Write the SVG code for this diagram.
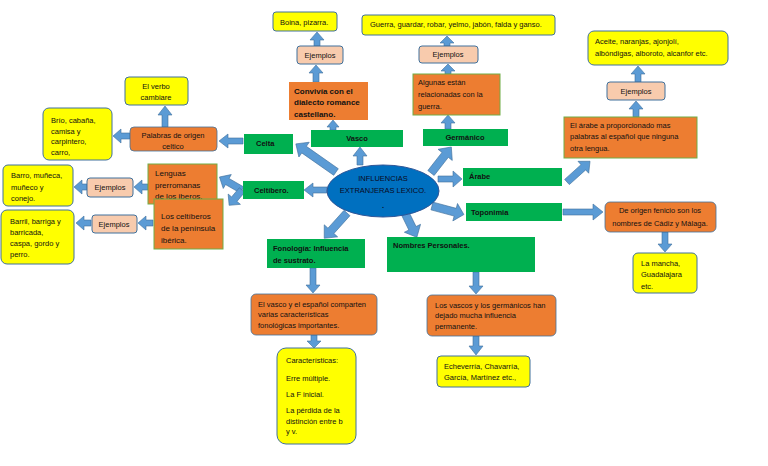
<svg xmlns="http://www.w3.org/2000/svg" width="768" height="466" viewBox="0 0 768 466">
<style>
text{font-family:"Liberation Sans",Arial,sans-serif;font-size:7.5px;fill:#111}
.b{font-weight:bold}
.m{text-anchor:middle}
.l{font-size:8px}
.g{fill:#00B050}
.o{fill:#ED7D31}
.og{fill:#ED7D31;stroke:#70AD47;stroke-width:1}
.or{fill:#ED7D31;stroke:#41719C;stroke-width:0.8}
.y{fill:#FFFF00;stroke:#41719C;stroke-width:1}
.p{fill:#F8CBAD;stroke:#41719C;stroke-width:1}
.a{fill:#5B9BD5;stroke:#41719C;stroke-width:0.6}
</style>
<rect width="768" height="466" fill="#fff"/>
<g id="connectors">
<path class="a" d="M243,138 L228,138 L228,134 L219,141 L228,148 L228,144 L243,144 Z"/>
<path class="a" d="M162,127 L162,115 L158,115 L165,106 L172,115 L168,115 L168,127 Z"/>
<path class="a" d="M130,133 L121,133 L121,129 L113,136 L121,143 L121,139 L130,139 Z"/>
<path class="a" d="M148,184 L142,184 L142,180 L134,187 L142,194 L142,190 L148,190 Z"/>
<path class="a" d="M87,184 L82,184 L82,180 L74,187 L82,194 L82,190 L87,190 Z"/>
<path class="a" d="M153,220 L146,220 L146,216 L138,223 L146,230 L146,226 L153,226 Z"/>
<path class="a" d="M91,220 L84,220 L84,216 L76,223 L84,230 L84,226 L91,226 Z"/>
<g transform="translate(242,190) rotate(-150)"><path class="a" d="M0,-3.5 L17,-3.5 L17,-8 L26,0 L17,8 L17,3.5 L0,3.5 Z"/></g>
<g transform="translate(242,190) rotate(130)"><path class="a" d="M0,-3.5 L12,-3.5 L12,-8 L20,0 L12,8 L12,3.5 L0,3.5 Z"/></g>
<path class="a" d="M327,187 L313,187 L313,183 L304,190 L313,197 L313,193 L327,193 Z"/>
<g transform="translate(336,172) rotate(-145)"><path class="a" d="M0,-4 L39,-4 L39,-9 L49,0 L39,9 L39,4 L0,4 Z"/></g>
<path class="a" d="M357,165 L357,156 L353,156 L360,147 L367,156 L363,156 L363,165 Z"/>
<g transform="translate(431,173) rotate(-52)"><path class="a" d="M0,-4 L23,-4 L23,-9 L33,0 L23,9 L23,4 L0,4 Z"/></g>
<path class="a" d="M438,176 L453,176 L453,171 L462,179 L453,187 L453,182 L438,182 Z"/>
<g transform="translate(432,206) rotate(15)"><path class="a" d="M0,-4 L24,-4 L24,-9 L33,0 L24,9 L24,4 L0,4 Z"/></g>
<g transform="translate(347,213) rotate(132)"><path class="a" d="M0,-4 L24,-4 L24,-9 L34,0 L24,9 L24,4 L0,4 Z"/></g>
<g transform="translate(405,213) rotate(64)"><path class="a" d="M0,-4 L17,-4 L17,-9 L27,0 L17,9 L17,4 L0,4 Z"/></g>
<path class="a" d="M330,130 L330,127 L327,127 L333,120 L339,127 L336,127 L336,130 Z"/>
<path class="a" d="M313,82 L313,73 L309,73 L316,65 L323,73 L319,73 L319,82 Z"/>
<path class="a" d="M314,46 L314,40 L310,40 L317,32 L324,40 L320,40 L320,46 Z"/>
<path class="a" d="M445,129 L445,123 L441,123 L448,115 L455,123 L451,123 L451,129 Z"/>
<path class="a" d="M445,74 L445,71 L441,71 L448,64 L455,71 L451,71 L451,74 Z"/>
<path class="a" d="M444,46 L444,43 L440,43 L447,36 L454,43 L450,43 L450,46 Z"/>
<g transform="translate(567,182) rotate(-42)"><path class="a" d="M0,-3.5 L22,-3.5 L22,-8 L31,0 L22,8 L22,3.5 L0,3.5 Z"/></g>
<path class="a" d="M633,117 L633,109 L629,109 L636,101 L643,109 L639,109 L639,117 Z"/>
<path class="a" d="M635,82 L635,74 L631,74 L638,66 L645,74 L641,74 L641,82 Z"/>
<path class="a" d="M563,209 L593,209 L593,204 L603,212 L593,220 L593,215 L563,215 Z"/>
<path class="a" d="M662,232 L662,244 L658,244 L665,252 L672,244 L668,244 L668,232 Z"/>
<path class="a" d="M310,268 L310,285 L306,285 L313,293 L320,285 L316,285 L316,268 Z"/>
<path class="a" d="M311,335 L311,341 L307,341 L314,348 L321,341 L317,341 L317,335 Z"/>
<path class="a" d="M473,272 L473,286 L469,286 L476,294 L483,286 L479,286 L479,272 Z"/>
<path class="a" d="M473,336 L473,346 L469,346 L476,355 L483,346 L479,346 L479,336 Z"/>
</g>

<g id="center">
<ellipse cx="383" cy="191" rx="56" ry="26" fill="#0070C0" stroke="#2F5597" stroke-width="1"/>
<text class="m" x="383" y="181" style="fill:#0a0a22">INFLUENCIAS</text>
<text class="m" x="383" y="193" style="fill:#0a0a22">EXTRANJERAS LEXICO.</text>
<text class="m b" x="383" y="208" style="fill:#0a0a22">.</text>
</g>

<g id="celta"><rect class="g" x="244" y="134" width="49" height="20"/><text class="b" x="256" y="146">Celta</text></g>
<g id="palabras-celtico"><rect class="or" x="130" y="127" width="87" height="24" rx="4"/><text class="m" x="173" y="138">Palabras de origen</text><text class="m" x="173" y="149">celtico</text></g>
<g id="verbo-cambiare"><rect class="y" x="125" y="77" width="63" height="28" rx="4"/><text class="m" x="156" y="89">El verbo</text><text class="m" x="156" y="100">cambiare</text></g>
<g id="brio"><rect class="y" x="43" y="108" width="69" height="52" rx="6"/><text x="51" y="123">Brío, cabaña,</text><text x="51" y="134">camisa y</text><text x="51" y="144">carpintero,</text><text x="51" y="155">carro,</text></g>

<g id="celtibero"><rect class="g" x="243" y="181" width="61" height="18"/><text class="b" x="254" y="193">Celtíbero.</text></g>
<g id="lenguas"><rect class="og" x="148" y="164" width="69" height="40"/><text class="l" x="155" y="176">Lenguas</text><text class="l" x="155" y="188">prerromanas</text><text class="l" x="155" y="199">de los iberos.</text></g>
<g id="ejemplos-iberos"><rect class="p" x="87" y="178" width="46" height="19" rx="3"/><text class="m" x="110" y="190">Ejemplos</text></g>
<g id="barro"><rect class="y" x="3" y="165" width="70" height="41" rx="5"/><text x="11" y="178">Barro, muñeca,</text><text x="11" y="190">muñeco y</text><text x="11" y="201">conejo.</text></g>
<g id="los-celtiberos"><rect class="og" x="154" y="199" width="69" height="50"/><text class="l" x="161" y="219">Los celtíberos</text><text class="l" x="161" y="231">de la península</text><text class="l" x="161" y="243">ibérica.</text></g>
<g id="ejemplos-celtiberos"><rect class="p" x="92" y="215" width="45" height="18" rx="3"/><text class="m" x="114" y="227">Ejemplos</text></g>
<g id="barril"><rect class="y" x="1" y="210" width="73" height="54" rx="6"/><text x="10" y="224">Barril, barriga y</text><text x="10" y="235">barricada,</text><text x="10" y="246">caspa, gordo y</text><text x="10" y="257">perro.</text></g>

<g id="vasco"><rect class="g" x="311" y="130" width="92" height="17"/><text class="b m" x="357" y="141">Vasco</text></g>
<g id="convivia"><rect class="o" x="289" y="82" width="79" height="38"/><text class="b l" x="294" y="94">Convivía con el</text><text class="b l" x="294" y="105">dialecto romance</text><text class="b l" x="294" y="117">castellano.</text></g>
<g id="ejemplos-vasco"><rect class="p" x="297" y="46" width="46" height="18" rx="3"/><text class="m" x="320" y="58">Ejemplos</text></g>
<g id="boina"><rect class="y" x="273" y="12" width="64" height="19" rx="3"/><text x="280" y="25">Boina, pizarra.</text></g>

<g id="germanico"><rect class="g" x="423" y="129" width="85" height="17"/><text class="b m" x="465" y="140">Germánico</text></g>
<g id="algunas"><rect class="og" x="413" y="74" width="87" height="41"/><text x="418" y="85">Algunas están</text><text x="418" y="97">relacionadas con la</text><text x="418" y="109">guerra.</text></g>
<g id="ejemplos-germanico"><rect class="p" x="419" y="46" width="59" height="17" rx="3"/><text class="m" x="448" y="57">Ejemplos</text></g>
<g id="guerra"><rect class="y" x="362" y="15" width="193" height="20" rx="3"/><text x="370" y="27">Guerra, guardar, robar, yelmo, jabón, falda y ganso.</text></g>

<g id="arabe"><rect class="g" x="463" y="168" width="99" height="18"/><text class="b" x="469" y="179">Árabe</text></g>
<g id="el-arabe"><rect class="og" x="564" y="117" width="133" height="41"/><text x="570" y="128">El árabe a proporcionado mas</text><text x="570" y="139">palabras al español que ninguna</text><text x="570" y="151">otra lengua.</text></g>
<g id="ejemplos-arabe"><rect class="p" x="607" y="82" width="58" height="18" rx="3"/><text class="m" x="636" y="94">Ejemplos</text></g>
<g id="aceite"><rect class="y" x="588" y="31" width="140" height="34" rx="6"/><text x="595" y="44">Aceite, naranjas, ajonjolí,</text><text x="595" y="56">albóndigas, alboroto, alcanfor etc.</text></g>

<g id="toponimia"><rect class="g" x="466" y="203" width="96" height="18"/><text class="b" x="471" y="215">Toponimia</text></g>
<g id="fenicio"><rect class="or" x="605" y="202" width="111" height="30" rx="5"/><text class="m" x="660" y="213">De origen fenicio son los</text><text class="m" x="660" y="226">nombres de Cádiz y Málaga.</text></g>
<g id="la-mancha"><rect class="y" x="633" y="253" width="64" height="40" rx="5"/><text x="641" y="266">La mancha,</text><text x="641" y="277">Guadalajara</text><text x="641" y="289">etc.</text></g>

<g id="fonologia"><rect class="g" x="267" y="239" width="98" height="29"/><text class="b" x="273" y="251">Fonología: Influencia</text><text class="b" x="273" y="263">de sustrato.</text></g>
<g id="el-vasco"><rect class="or" x="251" y="294" width="126" height="41" rx="5"/><text x="258" y="307">El vasco y el español comparten</text><text x="258" y="317">varias características</text><text x="258" y="328">fonológicas importantes.</text></g>
<g id="caracteristicas"><rect class="y" x="277" y="348" width="79" height="96" rx="9"/><text x="286" y="363">Características:</text><text x="286" y="381">Erre múltiple.</text><text x="286" y="397">La F inicial.</text><text x="286" y="413">La pérdida de la</text><text x="286" y="424">distinción entre b</text><text x="286" y="434">y v.</text></g>

<g id="nombres"><rect class="g" x="387" y="237" width="148" height="35"/><text class="b" x="393" y="248">Nombres Personales.</text></g>
<g id="los-vascos"><rect class="or" x="427" y="295" width="129" height="41" rx="5"/><text x="435" y="308">Los vascos y los germánicos han</text><text x="435" y="318">dejado mucha influencia</text><text x="435" y="329">permanente.</text></g>
<g id="echeverria"><rect class="y" x="437" y="356" width="93" height="31" rx="4"/><text x="444" y="369">Echeverría, Chavarría,</text><text x="444" y="380">García, Martínez etc.,</text></g>
</svg>
